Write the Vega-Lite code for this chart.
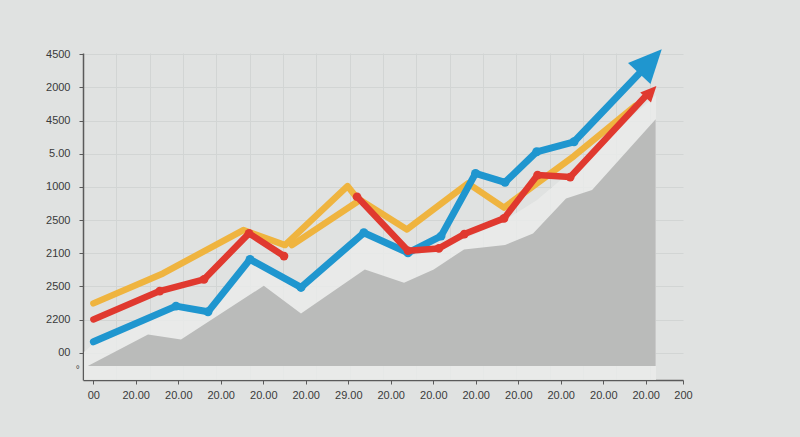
{
  "$schema": "https://vega.github.io/schema/vega-lite/v6.json",
  "width": 600,
  "height": 327,
  "autosize": {"type": "none"},
  "padding": {"left": 83, "top": 53, "right": 117, "bottom": 57},
  "background": "#e0e2e1",
  "config": {
    "view": {"stroke": null},
    "axis": {
      "labelFont": "Liberation Sans, sans-serif",
      "labelFontSize": 11,
      "labelColor": "#3a3a3a",
      "domainColor": "#5a5a5a",
      "tickColor": "#5a5a5a",
      "gridColor": "#d2d5d4",
      "gridWidth": 1,
      "labelOverlap": false,
      "labelFlush": false,
      "title": null
    }
  },
  "datasets": {
    "band": [
      {"x": 0.03, "y": 0.021}, {"x": 0.3, "y": 0.262}, {"x": 2.79, "y": 1.318}, {"x": 3.75, "y": 1.137},
      {"x": 5.01, "y": 2.705}, {"x": 6.54, "y": 1.861}, {"x": 8.43, "y": 3.52}, {"x": 9.75, "y": 2.916},
      {"x": 10.74, "y": 3.127}, {"x": 11.76, "y": 3.58}, {"x": 12.66, "y": 4.002}, {"x": 13.62, "y": 4.605},
      {"x": 14.61, "y": 5.449}, {"x": 17.19, "y": 7.771}
    ],
    "area": [
      {"x": 0.144, "y": -0.401}, {"x": 1.95, "y": 0.555}, {"x": 2.94, "y": 0.404}, {"x": 5.424, "y": 2.02},
      {"x": 6.54, "y": 1.188}, {"x": 8.455, "y": 2.515}, {"x": 9.631, "y": 2.111}, {"x": 10.522, "y": 2.515},
      {"x": 11.431, "y": 3.118}, {"x": 12.661, "y": 3.248}, {"x": 13.501, "y": 3.601}, {"x": 14.491, "y": 4.656},
      {"x": 15.272, "y": 4.906}, {"x": 17.18, "y": 7.039}
    ],
    "lines": [
      {"series": "yellow", "x": 0.312, "y": 1.49}, {"series": "yellow", "x": 2.4, "y": 2.394},
      {"series": "yellow", "x": 4.81, "y": 3.701}, {"series": "yellow", "x": 6.06, "y": 3.248},
      {"series": "yellow", "x": 7.935, "y": 5.027}, {"series": "yellow", "x": 8.22, "y": 4.665},
      {"series": "yellow", "x": 9.72, "y": 3.721}, {"series": "yellow", "x": 11.55, "y": 5.108},
      {"series": "yellow", "x": 12.63, "y": 4.379}, {"series": "yellow", "x": 14.73, "y": 5.932},
      {"series": "yellow", "x": 16.56, "y": 7.44},
      {"series": "yellow2", "x": 6.27, "y": 3.248}, {"series": "yellow2", "x": 8.22, "y": 4.545},
      {"series": "blue", "x": 0.312, "y": 0.332}, {"series": "blue", "x": 2.79, "y": 1.408},
      {"series": "blue", "x": 3.75, "y": 1.236}, {"series": "blue", "x": 5.01, "y": 2.817},
      {"series": "blue", "x": 6.54, "y": 1.972}, {"series": "blue", "x": 8.425, "y": 3.619},
      {"series": "blue", "x": 9.75, "y": 3.016}, {"series": "blue", "x": 10.74, "y": 3.519},
      {"series": "blue", "x": 11.776, "y": 5.41}, {"series": "blue", "x": 12.661, "y": 5.139},
      {"series": "blue", "x": 13.612, "y": 6.062}, {"series": "blue", "x": 14.731, "y": 6.363},
      {"series": "blue", "x": 16.69, "y": 8.424},
      {"series": "red1", "x": 0.312, "y": 1.007}, {"series": "red1", "x": 2.301, "y": 1.861},
      {"series": "red1", "x": 3.63, "y": 2.214}, {"series": "red1", "x": 4.98, "y": 3.601},
      {"series": "red1", "x": 6.03, "y": 2.916},
      {"series": "red2", "x": 8.221, "y": 4.705}, {"series": "red2", "x": 9.751, "y": 3.076},
      {"series": "red2", "x": 10.675, "y": 3.148}, {"series": "red2", "x": 11.44, "y": 3.58},
      {"series": "red2", "x": 12.631, "y": 4.053}, {"series": "red2", "x": 13.636, "y": 5.359},
      {"series": "red2", "x": 14.617, "y": 5.299}, {"series": "red2", "x": 16.86, "y": 7.72}
    ],
    "heads": [
      {"series": "blue", "x": 17.025, "y": 8.788},
      {"series": "red", "x": 17.04, "y": 7.871}
    ],
    "degree": [{"x": -0.16, "y": -0.52, "label": "°"}]
  },
  "resolve": {"axis": {"x": "independent", "y": "independent"}},
  "layer": [
    {
      "data": {"name": "band"},
      "mark": {"type": "area", "color": "#eaebea", "opacity": 0.85},
      "encoding": {
        "x": {
          "field": "x", "type": "quantitative",
          "scale": {"domain": [0, 18], "nice": false, "zero": false},
          "axis": {
            "values": [0.31, 1.58, 2.86, 4.13, 5.41, 6.68, 7.96, 9.23, 10.51, 11.78, 13.06, 14.33, 15.61, 16.88, 18],
            "labelExpr": "datum.value < 1 ? '00' : (datum.value > 7.5 && datum.value < 8.5) ? '29.00' : datum.value > 17.5 ? '200' : '20.00'",
            "grid": false, "tickSize": 4, "domainWidth": 1.5, "labelPadding": 5, "title": null,
            "labelOverlap": false, "labelFlush": false
          }
        },
        "y": {
          "field": "y", "type": "quantitative",
          "scale": {"domain": [-0.82, 9.04], "nice": false, "zero": false},
          "axis": {
            "values": [0, 1, 2, 3, 4, 5, 6, 7, 8, 9],
            "labelExpr": "['00','2200','2500','2100','2500','1000','5.00','4500','2000','4500'][round(datum.value)]",
            "grid": true, "tickSize": 4, "domainWidth": 1.5, "labelPadding": 9, "title": null,
            "labelOverlap": false, "labelFlush": false
          }
        },
        "y2": {"datum": -0.82}
      }
    },
    {
      "data": {"name": "area"},
      "mark": {"type": "area", "color": "#babbba"},
      "encoding": {
        "x": {
          "field": "x", "type": "quantitative",
          "axis": {"orient": "top", "values": [1, 2, 3, 4, 5, 6, 7, 8, 9, 10, 11, 12, 13, 14, 15, 16, 17], "grid": true, "labels": false, "ticks": false, "domain": false, "title": null}
        },
        "y": {"field": "y", "type": "quantitative", "axis": null},
        "y2": {"datum": -0.401}
      }
    },
    {
      "data": {"name": "lines"},
      "transform": [{"filter": "datum.series == 'yellow' || datum.series == 'yellow2'"}],
      "mark": {"type": "line", "color": "#efb43f", "strokeWidth": 6.5, "strokeCap": "round", "strokeJoin": "round"},
      "encoding": {
        "x": {"field": "x", "type": "quantitative", "axis": null},
        "y": {"field": "y", "type": "quantitative", "axis": null},
        "detail": {"field": "series"}
      }
    },
    {
      "data": {"name": "lines"},
      "transform": [{"filter": "datum.series == 'blue'"}],
      "mark": {"type": "line", "color": "#1f96cf", "strokeWidth": 7, "strokeCap": "round", "strokeJoin": "round"},
      "encoding": {
        "x": {"field": "x", "type": "quantitative", "axis": null},
        "y": {"field": "y", "type": "quantitative", "axis": null}
      }
    },
    {
      "data": {"name": "lines"},
      "transform": [{"filter": "datum.series == 'blue' && datum.x > 1 && datum.x < 15"}],
      "mark": {"type": "circle", "color": "#1f96cf", "size": 80, "opacity": 1},
      "encoding": {
        "x": {"field": "x", "type": "quantitative", "axis": null},
        "y": {"field": "y", "type": "quantitative", "axis": null}
      }
    },
    {
      "data": {"name": "lines"},
      "transform": [{"filter": "datum.series == 'red1' || datum.series == 'red2'"}],
      "mark": {"type": "line", "color": "#e0392f", "strokeWidth": 6.5, "strokeCap": "round", "strokeJoin": "round"},
      "encoding": {
        "x": {"field": "x", "type": "quantitative", "axis": null},
        "y": {"field": "y", "type": "quantitative", "axis": null},
        "detail": {"field": "series"}
      }
    },
    {
      "data": {"name": "lines"},
      "transform": [{"filter": "(datum.series == 'red1' || datum.series == 'red2') && datum.x > 1 && datum.x < 15"}],
      "mark": {"type": "circle", "color": "#e0392f", "size": 75, "opacity": 1},
      "encoding": {
        "x": {"field": "x", "type": "quantitative", "axis": null},
        "y": {"field": "y", "type": "quantitative", "axis": null}
      }
    },
    {
      "data": {"name": "heads"},
      "mark": {"type": "point", "shape": "M0,-1L-0.93,1L0.93,1Z", "filled": true, "opacity": 1, "angle": 43},
      "encoding": {
        "x": {"field": "x", "type": "quantitative", "axis": null},
        "y": {"field": "y", "type": "quantitative", "axis": null},
        "color": {"field": "series", "type": "nominal", "scale": {"domain": ["blue", "red"], "range": ["#1f96cf", "#e0392f"]}, "legend": null},
        "size": {"field": "series", "type": "nominal", "scale": {"domain": ["blue", "red"], "range": [1090, 250]}, "legend": null}
      }
    },
    {
      "data": {"name": "degree"},
      "mark": {"type": "text", "fontSize": 10, "color": "#444444", "font": "Liberation Sans"},
      "encoding": {
        "x": {"field": "x", "type": "quantitative", "axis": null},
        "y": {"field": "y", "type": "quantitative", "axis": null},
        "text": {"field": "label"}
      }
    }
  ]
}
